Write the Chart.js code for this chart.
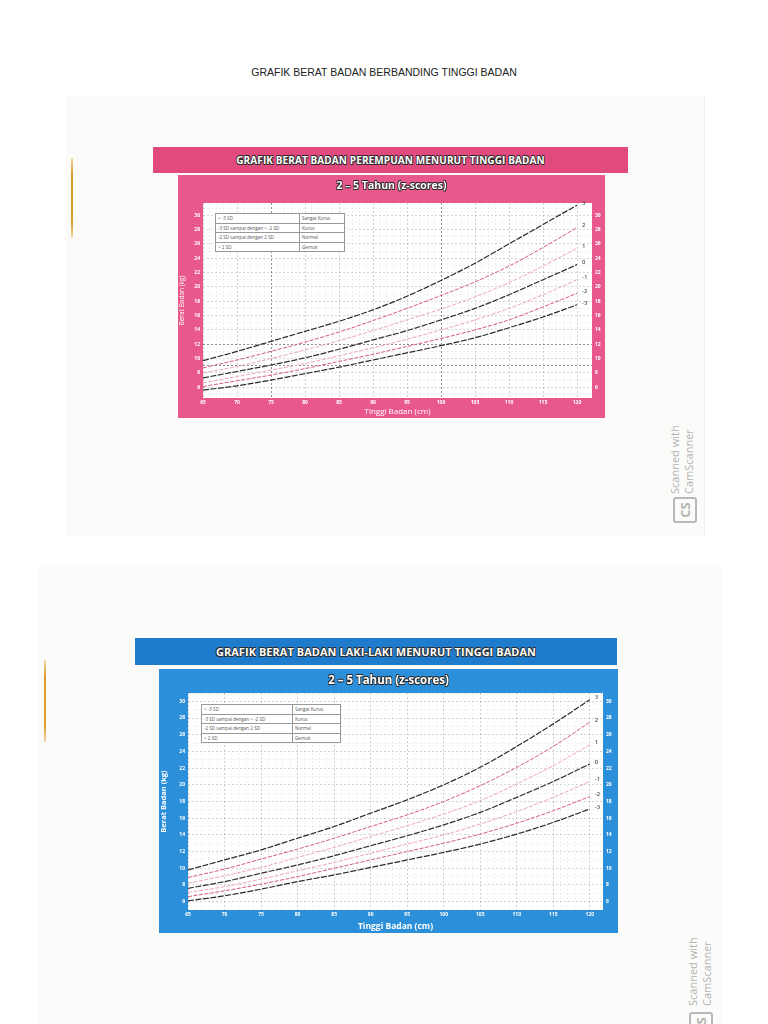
<!DOCTYPE html>
<html>
<head>
<meta charset="utf-8">
<script src="https://cdn.jsdelivr.net/npm/chart.js@4.4.1/dist/chart.umd.min.js"></script>
<style>
  body { margin: 0; width: 768px; height: 1024px; background: #fff; position: relative; overflow: hidden; font-family: "Open Sans", sans-serif; }
  .abs { position: absolute; }
  .doc-title { left: 0; width: 768px; top: 66px; text-align: center; font: 10.5px "Liberation Sans", sans-serif; color: #222; }
  .scan { background: #fbfbfa; }
  .mark { width: 2px; background: linear-gradient(#f3d9a8, #e19a2e 20%, #e19a2e 80%, #f3d9a8); }
  .banner { display: flex; align-items: center; justify-content: center; font-weight: 700; font-size: 10px; color: #fff; letter-spacing: 0.1px;
    text-shadow: -0.6px -0.6px 0 #2a2a2a, 0.6px -0.6px 0 #2a2a2a, -0.6px 0.6px 0 #2a2a2a, 0.6px 0.6px 0 #2a2a2a, 0 0 1px #2a2a2a; }
  .frame canvas { position: absolute; left: 0; top: 0; }
  .sub { left: 0; right: 0; text-align: center; font-weight: 700; font-size: 10.5px; color: #fff;
    text-shadow: -0.6px -0.6px 0 #2a2a2a, 0.6px -0.6px 0 #2a2a2a, -0.6px 0.6px 0 #2a2a2a, 0.6px 0.6px 0 #2a2a2a, 0 0 1px #2a2a2a; }
  .legend { border-collapse: collapse; background: #fff; font-size: 4.6px; color: #555; }
  .legend td { border: 0.6px solid #999; padding: 0 2px; height: 8.6px; white-space: nowrap; }
  .wm { color: #b3b3b3; font-size: 11px; line-height: 14px; transform: rotate(-90deg); transform-origin: left top; white-space: nowrap; }
  .cs { border: 2px solid #b8b8b8; border-radius: 3px; color: #b3b3b3; font-weight: 700; font-size: 13px; display: flex; align-items: center; justify-content: center; }
  .cs span { transform: rotate(-90deg); }
</style>
</head>
<body>
<div class="abs doc-title">GRAFIK BERAT BADAN BERBANDING TINGGI BADAN</div>

<div class="abs scan" style="left:66px;top:95px;width:638px;height:442px;border-right:1px solid #efefef"></div>
<div class="abs scan" style="left:38px;top:566px;width:684px;height:458px"></div>
<div class="abs mark" style="left:71px;top:158px;height:80px"></div>
<div class="abs mark" style="left:44px;top:660px;height:82px"></div>

<!-- girls -->
<div class="abs banner" style="left:153px;top:147px;width:475px;height:26px;background:#e04a7f">GRAFIK BERAT BADAN PEREMPUAN MENURUT TINGGI BADAN</div>
<div class="abs frame" style="left:178px;top:175px;width:427px;height:243px;background:#e8588c">
  <canvas id="girlsChart" width="427" height="243"></canvas>
  <div class="abs sub" style="top:3px">2 – 5 Tahun (z-scores)</div>
  <table class="abs legend" style="left:37px;top:38px;width:130px;border:1.4px solid #6a2a3c">
    <tr><td style="width:79px">&lt; -3 SD</td><td>Sangat Kurus</td></tr>
    <tr><td>-3 SD sampai dengan &lt; -2 SD</td><td>Kurus</td></tr>
    <tr><td>-2 SD sampai dengan 2 SD</td><td>Normal</td></tr>
    <tr><td>&gt; 2 SD</td><td>Gemuk</td></tr>
  </table>
</div>

<!-- boys -->
<div class="abs banner" style="left:135px;top:638px;width:482px;height:27px;background:#1f7bcb;font-size:10.9px">GRAFIK BERAT BADAN LAKI-LAKI MENURUT TINGGI BADAN</div>
<div class="abs frame" style="left:159px;top:669px;width:459px;height:264px;background:#2c8fd9">
  <canvas id="boysChart" width="459" height="264"></canvas>
  <div class="abs sub" style="top:3px;font-size:11.5px">2 – 5 Tahun (z-scores)</div>
  <table class="abs legend" style="left:42px;top:35px;width:140px;border:1.6px solid #1c2a4e">
    <tr><td style="width:86px">&lt; -3 SD</td><td>Sangat Kurus</td></tr>
    <tr><td>-3 SD sampai dengan &lt; -2 SD</td><td>Kurus</td></tr>
    <tr><td>-2 SD sampai dengan 2 SD</td><td>Normal</td></tr>
    <tr><td>&gt; 2 SD</td><td>Gemuk</td></tr>
  </table>
</div>

<!-- scanner watermark -->
<div class="abs wm" style="left:668px;top:494px">Scanned with<br>CamScanner</div>
<div class="abs cs" style="left:673px;top:497px;width:20px;height:22px"><span>CS</span></div>
<div class="abs wm" style="left:686px;top:1006px">Scanned with<br>CamScanner</div>
<div class="abs cs" style="left:689px;top:1012px;width:20px;height:22px"><span>CS</span></div>

<script>
// tinggi badan (cm)
const heights = [65, 70, 75, 80, 85, 90, 95, 100, 105, 110, 115, 120];
const zLabels = ["3", "2", "1", "0", "-1", "-2", "-3"];

// berat badan (kg) perempuan, per z-score
const girlsZ3 = [9.7, 11.0, 12.4, 13.8, 15.2, 16.8, 18.7, 20.9, 23.3, 26.0, 28.7, 31.4];
const girlsZ2 = [8.7, 9.8, 11.0, 12.3, 13.7, 15.3, 17.0, 18.8, 20.7, 22.9, 25.5, 28.3];
const girlsZ1 = [8.0, 8.9, 10.0, 11.2, 12.5, 13.9, 15.4, 16.9, 18.6, 20.6, 22.9, 25.4];
const girlsZ0 = [7.3, 8.2, 9.1, 10.1, 11.3, 12.6, 13.9, 15.4, 17.0, 18.9, 21.0, 23.1];
const girlsZm1 = [6.6, 7.5, 8.4, 9.3, 10.4, 11.5, 12.7, 14.0, 15.4, 17.0, 18.9, 21.0];
const girlsZm2 = [6.1, 6.9, 7.7, 8.6, 9.6, 10.6, 11.7, 12.8, 14.0, 15.4, 17.2, 19.1];
const girlsZm3 = [5.6, 6.2, 7.0, 7.9, 8.8, 9.8, 10.8, 11.8, 12.9, 14.3, 15.8, 17.5];

// berat badan (kg) laki-laki, per z-score
const boysZ3 = [9.8, 11.0, 12.2, 13.6, 15.0, 16.6, 18.2, 20.0, 22.1, 24.6, 27.3, 30.2];
const boysZ2 = [8.9, 9.9, 11.1, 12.3, 13.6, 15.0, 16.4, 18.0, 19.9, 22.1, 24.6, 27.5];
const boysZ1 = [8.2, 9.1, 10.1, 11.3, 12.5, 13.8, 15.1, 16.5, 18.1, 20.1, 22.3, 24.8];
const boysZ0 = [7.6, 8.4, 9.4, 10.4, 11.5, 12.7, 13.9, 15.2, 16.7, 18.5, 20.4, 22.5];
const boysZm1 = [7.1, 7.8, 8.7, 9.7, 10.7, 11.8, 12.9, 14.0, 15.3, 16.8, 18.5, 20.4];
const boysZm2 = [6.6, 7.3, 8.1, 9.0, 10.0, 11.0, 12.0, 13.0, 14.1, 15.4, 16.9, 18.6];
const boysZm3 = [6.1, 6.7, 7.5, 8.4, 9.2, 10.1, 11.0, 11.9, 12.9, 14.1, 15.5, 17.1];

// tick labels
const xTickLabels = [65, 70, 75, 80, 85, 90, 95, 100, 105, 110, 115, 120];
const yTickLabels = [6, 8, 10, 12, 14, 16, 18, 20, 22, 24, 26, 28, 30];

const lineColors = ["#2b2b2b", "#d65c80", "#eda8b4", "#303030", "#eda8b4", "#d65c80", "#2b2b2b"];

const plotBackground = {
  id: "plotBackground",
  beforeDraw(chart) {
    const { ctx, chartArea } = chart;
    ctx.save();
    ctx.fillStyle = "#fff";
    ctx.fillRect(chartArea.left, chartArea.top, chartArea.right - chartArea.left, chartArea.bottom - chartArea.top);
    ctx.restore();
  },
};

const curveLabels = {
  id: "curveLabels",
  afterDatasetsDraw(chart) {
    const { ctx } = chart;
    ctx.save();
    ctx.font = '600 6px "Open Sans"';
    ctx.fillStyle = "#555";
    ctx.textBaseline = "middle";
    chart.data.datasets.forEach((ds, i) => {
      const pts = chart.getDatasetMeta(i).data;
      const p = pts[pts.length - 1];
      ctx.fillText(ds.label, p.x + 5, p.y - 2);
    });
    ctx.restore();
  },
};

function buildChart(id, series, cfg) {
  const ctx = document.getElementById(id).getContext("2d");
  const xGrid = [];
  for (let v = 65; v <= 120; v++) xGrid.push(v);
  const yGrid = [];
  for (let v = Math.ceil(cfg.yMin); v <= Math.floor(cfg.yMax); v++) yGrid.push(v);

  const tickFont = { family: "Open Sans", size: 5, weight: "bold" };
  const yTicks = {
    color: "#fff",
    font: tickFont,
    padding: 3,
    autoSkip: false,
    callback: (v) => (yTickLabels.includes(v) ? String(v) : ""),
  };

  return new Chart(ctx, {
    type: "line",
    data: {
      datasets: series.map((vals, i) => ({
        label: zLabels[i],
        data: heights.map((h, j) => ({ x: h, y: vals[j] })),
        borderColor: lineColors[i],
        borderWidth: i % 3 === 0 ? 1.2 : 1,
        borderDash: i % 3 === 0 ? [6, 1.5] : [4, 1.5],
        pointRadius: 0,
        cubicInterpolationMode: "monotone",
        fill: false,
      })),
    },
    options: {
      responsive: false,
      animation: false,
      layout: { padding: { top: cfg.top } },
      plugins: { legend: { display: false }, tooltip: { enabled: false } },
      scales: {
        x: {
          type: "linear",
          min: 65,
          max: cfg.xMax,
          afterBuildTicks: (s) => { s.ticks = xGrid.map((v) => ({ value: v })); },
          afterFit: (s) => { s.height = cfg.bottom; },
          grid: {
            drawTicks: false,
            color: (c) => {
              const v = c.tick && c.tick.value;
              if (cfg.darkX.includes(v)) return "rgba(70,70,70,0.6)";
              return v % 5 === 0 ? "rgba(0,0,0,0.18)" : "rgba(0,0,0,0.06)";
            },
          },
          border: { display: false, dash: [2, 2] },
          ticks: {
            color: "#fff",
            font: tickFont,
            padding: 2,
            autoSkip: false,
            maxRotation: 0,
            callback: (v) => (xTickLabels.includes(v) ? String(v) : ""),
          },
          title: {
            display: true,
            text: "Tinggi Badan (cm)",
            color: "#fff",
            font: { family: "Open Sans", size: cfg.xTitleSize, weight: cfg.titleWeight },
            padding: { top: 0, bottom: 1 },
          },
        },
        y: {
          min: cfg.yMin,
          max: cfg.yMax,
          afterBuildTicks: (s) => { s.ticks = yGrid.map((v) => ({ value: v })); },
          afterFit: (s) => { s.width = cfg.left; },
          grid: {
            drawTicks: false,
            color: (c) => {
              const v = c.tick && c.tick.value;
              if (cfg.darkY.includes(v)) return "rgba(70,70,70,0.6)";
              return v % 2 === 0 ? "rgba(0,0,0,0.16)" : "rgba(0,0,0,0.06)";
            },
          },
          border: { display: false, dash: [2, 2] },
          ticks: yTicks,
          title: {
            display: true,
            text: "Berat Badan (kg)",
            color: "#fff",
            font: { family: "Open Sans", size: cfg.yTitleSize, weight: cfg.titleWeight },
            padding: { top: 0, bottom: 1 },
          },
        },
        y2: {
          display: true,
          position: "right",
          min: cfg.yMin,
          max: cfg.yMax,
          afterBuildTicks: (s) => { s.ticks = yGrid.map((v) => ({ value: v })); },
          afterFit: (s) => { s.width = cfg.right; },
          grid: { display: false, drawTicks: false },
          border: { display: false },
          ticks: yTicks,
        },
      },
    },
    plugins: [plotBackground, curveLabels],
  });
}

buildChart("girlsChart", [girlsZ3, girlsZ2, girlsZ1, girlsZ0, girlsZm1, girlsZm2, girlsZm3], {
  xMax: 122.2, yMin: 4.5, yMax: 31.7,
  top: 28, bottom: 20, left: 25, right: 13,
  xTitleSize: 8, yTitleSize: 6.5, titleWeight: "normal",
  darkX: [75, 100], darkY: [9, 12],
});

buildChart("boysChart", [boysZ3, boysZ2, boysZ1, boysZ0, boysZm1, boysZm2, boysZm3], {
  xMax: 121.8, yMin: 5, yMax: 31,
  top: 24, bottom: 23, left: 29, right: 15,
  xTitleSize: 8.5, yTitleSize: 7.5, titleWeight: "bold",
  darkX: [], darkY: [],
});
</script>
</body>
</html>
